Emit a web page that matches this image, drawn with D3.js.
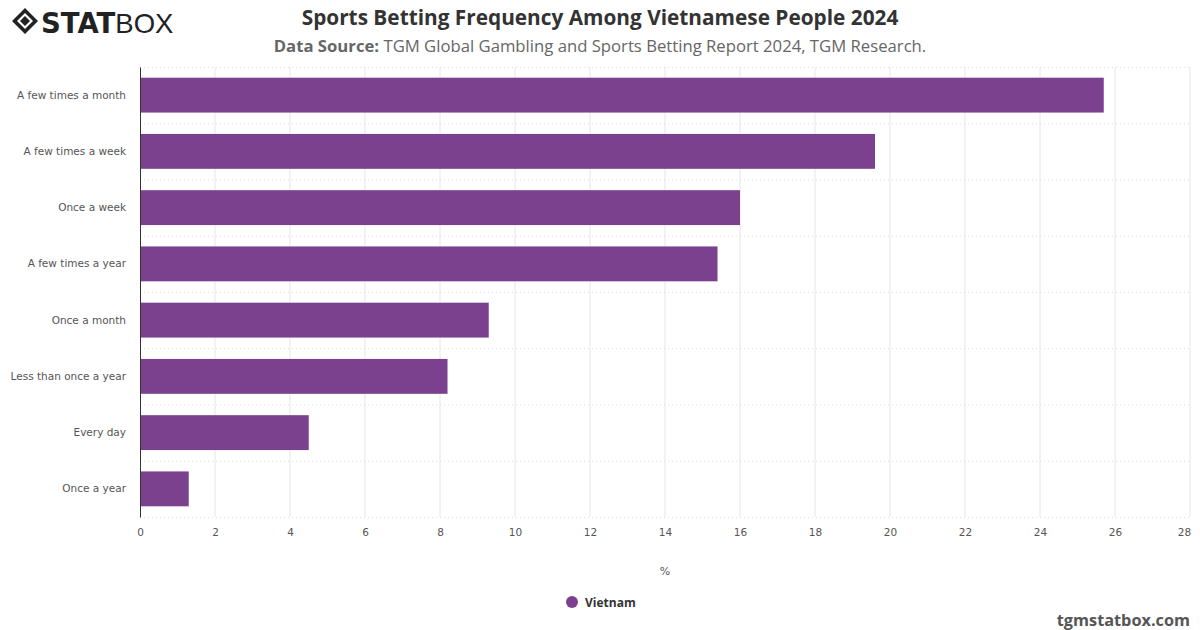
<!DOCTYPE html>
<html>
<head>
<meta charset="utf-8">
<script src="https://cdn.jsdelivr.net/npm/d3@7"></script>
<style>
  body { margin: 0; background: #fff; }
  svg { font-family: "DejaVu Sans", sans-serif; }
</style>
</head>
<body>
<div id="chart"></div>
<script>
var categories = ["A few times a month", "A few times a week", "Once a week", "A few times a year",
	"Once a month", "Less than once a year", "Every day", "Once a year"];
var values = [25.7, 19.6, 16.0, 15.4, 9.3, 8.2, 4.5, 1.3];
var xTicks = [0, 2, 4, 6, 8, 10, 12, 14, 16, 18, 20, 22, 24, 26, 28];
var seriesName = "Vietnam";

var width = 1200, height = 630;
var margin = {top: 67, right: 10, bottom: 113, left: 140};
var chartWidth = width - margin.left - margin.right,
	chartHeight = height - margin.top - margin.bottom;
var barColor = "#7b418f";

var svg = d3.select("#chart").append("svg")
	.attr("width", width)
	.attr("height", height);

// logo
var logo = svg.append("g").attr("transform", "translate(12,8)");
logo.append("path")
	.attr("d", "M13,0 L26,13 L13,26 L0,13 Z M13,5 L21,13 L13,21 L5,13 Z")
	.attr("fill", "#222").attr("fill-rule", "evenodd");
logo.append("path")
	.attr("d", "M13,8 L18,13 L13,18 L8,13 Z").attr("fill", "#222");
logo.append("text")
	.attr("x", 29).attr("y", 25)
	.style("font-family", "'DejaVu Sans', sans-serif")
	.style("font-size", "27.5px").style("font-weight", "900")
	.attr("fill", "#222")
	.text("STAT")
	.append("tspan").style("font-weight", "300").style("font-family", "'Liberation Sans', sans-serif")
	.text("BOX");

// titles
svg.append("text")
	.attr("x", 600).attr("y", 25)
	.attr("text-anchor", "middle")
	.style("font-family", "'Open Sans', sans-serif")
	.style("font-size", "20.8px").style("font-weight", "bold")
	.attr("fill", "#333")
	.text("Sports Betting Frequency Among Vietnamese People 2024");

var sub = svg.append("text")
	.attr("x", 600).attr("y", 52)
	.attr("text-anchor", "middle")
	.style("font-family", "'Open Sans', sans-serif")
	.style("font-size", "16.7px")
	.attr("fill", "#666");
sub.append("tspan").style("font-weight", "bold").text("Data Source: ");
sub.append("tspan").text("TGM Global Gambling and Sports Betting Report 2024, TGM Research.");

var g = svg.append("g").attr("transform", "translate(" + margin.left + "," + margin.top + ")");

var x = d3.scaleLinear().domain([0, 28]).range([0, chartWidth]);
var y = d3.scaleBand().domain(categories).range([0, chartHeight]).paddingInner(0.38).paddingOuter(0.19);

// vertical grid
g.append("g")
	.selectAll("line")
	.data(xTicks.slice(1))
	.enter().append("line")
	.attr("x1", function(d) { return x(d); })
	.attr("x2", function(d) { return x(d); })
	.attr("y1", 0).attr("y2", chartHeight)
	.attr("stroke", "#e6e6e6");

// dotted category grid
var bounds = d3.range(categories.length + 1).map(function(i) { return i * chartHeight / categories.length; });
g.append("g")
	.selectAll("line")
	.data(bounds)
	.enter().append("line")
	.attr("x1", 0).attr("x2", chartWidth)
	.attr("y1", function(d) { return d + 0.5; })
	.attr("y2", function(d) { return d + 0.5; })
	.attr("stroke", "#ddd")
	.attr("stroke-dasharray", "1,3");

// bars
g.selectAll("rect.bar")
	.data(values)
	.enter().append("rect")
	.attr("class", "bar")
	.attr("x", 0)
	.attr("y", function(d, i) { return y(categories[i]); })
	.attr("width", function(d) { return x(d); })
	.attr("height", y.bandwidth())
	.attr("fill", barColor);

// y axis
var yAxis = g.append("g")
	.call(d3.axisLeft(y).tickSize(0).tickPadding(14));
yAxis.attr("font-family", null);
yAxis.select(".domain").attr("stroke", "#333");
yAxis.selectAll("text")
	.style("font-family", "'DejaVu Sans', sans-serif")
	.style("font-size", "10.5px").attr("fill", "#555");

// x axis
var xAxis = g.append("g")
	.attr("transform", "translate(0," + chartHeight + ")")
	.call(d3.axisBottom(x).tickValues(xTicks).tickSize(0).tickPadding(12));
xAxis.select(".domain").remove();
xAxis.selectAll("text")
	.style("font-family", "'DejaVu Sans', sans-serif")
	.style("font-size", "10.5px").attr("fill", "#555")
	.attr("dx", function(d) { return d === 28 ? "-6" : "0"; });

svg.append("text")
	.attr("x", 665).attr("y", 575)
	.attr("text-anchor", "middle")
	.style("font-size", "11px")
	.attr("fill", "#555")
	.text("%");

// legend
svg.append("circle").attr("cx", 572).attr("cy", 602).attr("r", 6).attr("fill", barColor);
svg.append("text")
	.attr("x", 585).attr("y", 606.5)
	.style("font-family", "'Open Sans', sans-serif")
	.style("font-size", "12px").style("font-weight", "bold")
	.attr("fill", "#333")
	.text(seriesName);

// footer
svg.append("text")
	.attr("x", 1190).attr("y", 626)
	.attr("text-anchor", "end")
	.style("font-family", "'Open Sans', sans-serif")
	.style("font-size", "16.3px").style("font-weight", "bold")
	.attr("fill", "#555")
	.text("tgmstatbox.com");
</script>
</body>
</html>
